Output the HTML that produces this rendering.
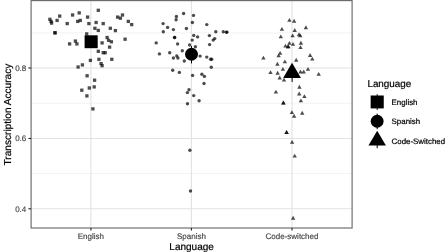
<!DOCTYPE html>
<html><head><meta charset="utf-8"><title>Transcription Accuracy by Language</title>
<style>
html,body{margin:0;padding:0;background:#fff;}
body{width:448px;height:252px;overflow:hidden;}
svg{display:block;text-rendering:geometricPrecision;font-family:"Liberation Sans",Arial,sans-serif;}
.g{stroke:#e2e2e2;stroke-width:1.1;fill:none}
.gm{stroke:#ececec;stroke-width:.7;fill:none}
.tk{stroke:#222;stroke-width:1.1;fill:none}
.al{font-size:8px;fill:#4d4d4d;stroke:#4d4d4d;stroke-width:.2}
.at{font-size:10px;fill:#000;stroke:#000;stroke-width:.2}
.lt{font-size:7.9px;fill:#000;stroke:#000;stroke-width:.2}
.p{fill:#000;fill-opacity:.7}
</style></head><body>
<svg width="448" height="252" viewBox="0 0 448 252">
<rect width="448" height="252" fill="#fff"/>

<line class="gm" x1="31" x2="352" y1="32.9" y2="32.9"/>
<line class="gm" x1="31" x2="352" y1="103.2" y2="103.2"/>
<line class="gm" x1="31" x2="352" y1="173.6" y2="173.6"/>
<line class="g" x1="31" x2="352" y1="68.0" y2="68.0"/>
<line class="g" x1="31" x2="352" y1="138.5" y2="138.5"/>
<line class="g" x1="31" x2="352" y1="208.8" y2="208.8"/>
<line class="g" x1="90.9" x2="90.9" y1="1" y2="228"/>
<line class="g" x1="191.4" x2="191.4" y1="1" y2="228"/>
<line class="g" x1="292.0" x2="292.0" y1="1" y2="228"/>
<g class="p">
<rect x="48.25" y="17.65" width="3.3" height="3.3"/>
<rect x="49.45" y="19.75" width="3.3" height="3.3"/>
<rect x="49.95" y="21.45" width="3.3" height="3.3"/>
<rect x="55.45" y="18.75" width="3.3" height="3.3"/>
<rect x="58.05" y="14.45" width="3.3" height="3.3"/>
<rect x="65.55" y="21.95" width="3.3" height="3.3"/>
<rect x="70.95" y="13.35" width="3.3" height="3.3"/>
<rect x="77.55" y="11.25" width="3.3" height="3.3"/>
<rect x="76.05" y="19.75" width="3.3" height="3.3"/>
<rect x="78.65" y="18.75" width="3.3" height="3.3"/>
<rect x="85.95" y="15.45" width="3.3" height="3.3"/>
<rect x="87.25" y="21.95" width="3.3" height="3.3"/>
<rect x="96.65" y="8.65" width="3.3" height="3.3"/>
<rect x="94.45" y="20.85" width="3.3" height="3.3"/>
<rect x="101.55" y="21.95" width="3.3" height="3.3"/>
<rect x="93.25" y="26.65" width="3.3" height="3.3"/>
<rect x="96.65" y="28.75" width="3.3" height="3.3"/>
<rect x="108.65" y="26.65" width="3.3" height="3.3"/>
<rect x="113.75" y="28.95" width="3.3" height="3.3"/>
<rect x="115.95" y="15.45" width="3.3" height="3.3"/>
<rect x="118.75" y="16.55" width="3.3" height="3.3"/>
<rect x="120.85" y="13.35" width="3.3" height="3.3"/>
<rect x="126.65" y="19.75" width="3.3" height="3.3"/>
<rect x="130.05" y="22.95" width="3.3" height="3.3"/>
<rect x="123.45" y="37.55" width="3.3" height="3.3"/>
<rect x="85.05" y="32.25" width="3.3" height="3.3"/>
<rect x="105.45" y="35.85" width="3.3" height="3.3"/>
<rect x="106.95" y="38.65" width="3.3" height="3.3"/>
<rect x="109.75" y="40.15" width="3.3" height="3.3"/>
<rect x="100.45" y="41.25" width="3.3" height="3.3"/>
<rect x="107.95" y="45.45" width="3.3" height="3.3"/>
<rect x="73.75" y="39.45" width="3.3" height="3.3"/>
<rect x="75.25" y="42.25" width="3.3" height="3.3"/>
<rect x="67.95" y="42.25" width="3.3" height="3.3"/>
<rect x="96.65" y="49.65" width="3.3" height="3.3"/>
<rect x="101.55" y="51.05" width="3.3" height="3.3"/>
<rect x="103.55" y="51.05" width="3.3" height="3.3"/>
<rect x="88.75" y="58.75" width="3.3" height="3.3"/>
<rect x="97.25" y="57.65" width="3.3" height="3.3"/>
<rect x="110.15" y="57.65" width="3.3" height="3.3"/>
<rect x="99.45" y="61.95" width="3.3" height="3.3"/>
<rect x="100.45" y="64.05" width="3.3" height="3.3"/>
<rect x="80.75" y="63.25" width="3.3" height="3.3"/>
<rect x="76.45" y="65.35" width="3.3" height="3.3"/>
<rect x="85.45" y="74.15" width="3.3" height="3.3"/>
<rect x="92.95" y="78.55" width="3.3" height="3.3"/>
<rect x="92.55" y="85.25" width="3.3" height="3.3"/>
<rect x="87.65" y="86.35" width="3.3" height="3.3"/>
<rect x="80.15" y="88.55" width="3.3" height="3.3"/>
<rect x="85.25" y="94.25" width="3.3" height="3.3"/>
<rect x="91.25" y="107.25" width="3.3" height="3.3"/>
<rect x="53.35" y="31.15" width="3.3" height="3.3"/>
<rect x="53.35" y="31.15" width="3.3" height="3.3"/>
<circle cx="183.60" cy="13.50" r="1.7"/>
<circle cx="193.50" cy="15.40" r="1.7"/>
<circle cx="176.40" cy="16.50" r="1.7"/>
<circle cx="176.10" cy="19.70" r="1.7"/>
<circle cx="192.40" cy="22.50" r="1.7"/>
<circle cx="163.10" cy="23.60" r="1.7"/>
<circle cx="167.60" cy="27.40" r="1.7"/>
<circle cx="173.40" cy="29.60" r="1.7"/>
<circle cx="163.30" cy="31.70" r="1.7"/>
<circle cx="186.40" cy="28.50" r="1.7"/>
<circle cx="206.80" cy="24.60" r="1.7"/>
<circle cx="215.80" cy="31.70" r="1.7"/>
<circle cx="223.30" cy="31.70" r="1.7"/>
<circle cx="226.90" cy="32.10" r="1.7"/>
<circle cx="226.50" cy="32.30" r="1.7"/>
<circle cx="209.40" cy="35.60" r="1.7"/>
<circle cx="214.70" cy="38.60" r="1.7"/>
<circle cx="213.20" cy="40.10" r="1.7"/>
<circle cx="193.70" cy="35.40" r="1.7"/>
<circle cx="197.60" cy="36.90" r="1.7"/>
<circle cx="192.20" cy="40.10" r="1.7"/>
<circle cx="174.60" cy="37.50" r="1.7"/>
<circle cx="174.60" cy="37.50" r="1.7"/>
<circle cx="156.20" cy="42.90" r="1.7"/>
<circle cx="177.60" cy="43.90" r="1.7"/>
<circle cx="209.60" cy="44.60" r="1.7"/>
<circle cx="189.60" cy="45.00" r="1.7"/>
<circle cx="195.40" cy="46.70" r="1.7"/>
<circle cx="182.30" cy="50.80" r="1.7"/>
<circle cx="169.70" cy="52.70" r="1.7"/>
<circle cx="159.40" cy="53.90" r="1.7"/>
<circle cx="176.80" cy="55.90" r="1.7"/>
<circle cx="173.40" cy="58.00" r="1.7"/>
<circle cx="177.90" cy="58.00" r="1.7"/>
<circle cx="184.30" cy="61.00" r="1.7"/>
<circle cx="200.10" cy="56.10" r="1.7"/>
<circle cx="206.80" cy="57.10" r="1.7"/>
<circle cx="210.60" cy="59.30" r="1.7"/>
<circle cx="211.70" cy="59.30" r="1.7"/>
<circle cx="211.30" cy="67.20" r="1.7"/>
<circle cx="172.70" cy="70.20" r="1.7"/>
<circle cx="179.40" cy="72.40" r="1.7"/>
<circle cx="192.60" cy="75.40" r="1.7"/>
<circle cx="201.90" cy="74.30" r="1.7"/>
<circle cx="204.40" cy="76.40" r="1.7"/>
<circle cx="204.00" cy="83.50" r="1.7"/>
<circle cx="189.00" cy="89.70" r="1.7"/>
<circle cx="187.40" cy="92.60" r="1.7"/>
<circle cx="193.70" cy="95.60" r="1.7"/>
<circle cx="199.10" cy="100.80" r="1.7"/>
<circle cx="187.50" cy="103.80" r="1.7"/>
<circle cx="189.90" cy="150.30" r="1.7"/>
<circle cx="190.50" cy="191.00" r="1.7"/>
<path d="M289.40 17.95L291.60 21.85L287.20 21.85Z"/>
<path d="M294.10 18.85L296.30 22.75L291.90 22.75Z"/>
<path d="M281.90 26.95L284.10 30.85L279.70 30.85Z"/>
<path d="M305.90 25.25L308.10 29.15L303.70 29.15Z"/>
<path d="M294.70 28.05L296.90 31.95L292.50 31.95Z"/>
<path d="M280.80 34.45L283.00 38.35L278.60 38.35Z"/>
<path d="M292.60 33.45L294.80 37.35L290.40 37.35Z"/>
<path d="M299.00 32.35L301.20 36.25L296.80 36.25Z"/>
<path d="M300.30 33.45L302.50 37.35L298.10 37.35Z"/>
<path d="M289.40 40.95L291.60 44.85L287.20 44.85Z"/>
<path d="M293.00 41.95L295.20 45.85L290.80 45.85Z"/>
<path d="M300.90 40.85L303.10 44.75L298.70 44.75Z"/>
<path d="M285.50 43.65L287.70 47.55L283.30 47.55Z"/>
<path d="M288.30 44.15L290.50 48.05L286.10 48.05Z"/>
<path d="M288.00 44.55L290.20 48.45L285.80 48.45Z"/>
<path d="M300.50 45.15L302.70 49.05L298.30 49.05Z"/>
<path d="M280.10 50.95L282.30 54.85L277.90 54.85Z"/>
<path d="M278.60 53.45L280.80 57.35L276.40 57.35Z"/>
<path d="M263.40 55.65L265.60 59.55L261.20 59.55Z"/>
<path d="M310.10 53.05L312.30 56.95L307.90 56.95Z"/>
<path d="M312.30 56.65L314.50 60.55L310.10 60.55Z"/>
<path d="M296.20 57.75L298.40 61.65L294.00 61.65Z"/>
<path d="M284.90 59.45L287.10 63.35L282.70 63.35Z"/>
<path d="M277.40 61.85L279.60 65.75L275.20 65.75Z"/>
<path d="M282.90 66.95L285.10 70.85L280.70 70.85Z"/>
<path d="M308.00 66.95L310.20 70.85L305.80 70.85Z"/>
<path d="M300.50 69.55L302.70 73.45L298.30 73.45Z"/>
<path d="M303.70 69.55L305.90 73.45L301.50 73.45Z"/>
<path d="M270.50 70.15L272.70 74.05L268.30 74.05Z"/>
<path d="M277.60 70.85L279.80 74.75L275.40 74.75Z"/>
<path d="M318.70 71.95L320.90 75.85L316.50 75.85Z"/>
<path d="M279.70 75.55L281.90 79.45L277.50 79.45Z"/>
<path d="M284.00 77.65L286.20 81.55L281.80 81.55Z"/>
<path d="M299.40 84.75L301.60 88.65L297.20 88.65Z"/>
<path d="M275.90 89.65L278.10 93.55L273.70 93.55Z"/>
<path d="M299.20 91.55L301.40 95.45L297.00 95.45Z"/>
<path d="M304.40 94.15L306.60 98.05L302.20 98.05Z"/>
<path d="M300.90 98.45L303.10 102.35L298.70 102.35Z"/>
<path d="M283.40 100.55L285.60 104.45L281.20 104.45Z"/>
<path d="M283.40 100.55L285.60 104.45L281.20 104.45Z"/>
<path d="M291.90 110.15L294.10 114.05L289.70 114.05Z"/>
<path d="M302.20 110.85L304.40 114.75L300.00 114.75Z"/>
<path d="M294.10 113.85L296.30 117.75L291.90 117.75Z"/>
<path d="M286.60 130.05L288.80 133.95L284.40 133.95Z"/>
<path d="M286.60 130.05L288.80 133.95L284.40 133.95Z"/>
<path d="M292.10 139.95L294.30 143.85L289.90 143.85Z"/>
<path d="M294.70 153.65L296.90 157.55L292.50 157.55Z"/>
<path d="M293.10 215.75L295.30 219.65L290.90 219.65Z"/>
</g>
<g fill="#000" stroke="none">
<rect x="84.6" y="35.3" width="13.1" height="12.9"/>
<rect x="191.0" y="46.1" width="1" height="17.3"/>
<circle cx="191.5" cy="54.25" r="6.45"/>
<rect x="291.6" y="65" width="1" height="16.9"/>
<path d="M292.05 62.7L300.95 77.9L283.15 77.9Z"/>
</g>
<rect x="31.1" y="0.6" width="321" height="227.4" fill="none" stroke="#6a6a6a" stroke-width="1.15"/>
<line class="tk" x1="28.4" x2="31" y1="68.0" y2="68.0"/>
<line class="tk" x1="28.4" x2="31" y1="138.5" y2="138.5"/>
<line class="tk" x1="28.4" x2="31" y1="208.8" y2="208.8"/>
<line class="tk" x1="90.9" x2="90.9" y1="228" y2="230.5"/>
<line class="tk" x1="191.4" x2="191.4" y1="228" y2="230.5"/>
<line class="tk" x1="292.0" x2="292.0" y1="228" y2="230.5"/>
<text class="al" x="26.3" y="70.7" text-anchor="end">0.8</text>
<text class="al" x="26.3" y="141.2" text-anchor="end">0.6</text>
<text class="al" x="26.3" y="211.5" text-anchor="end">0.4</text>
<text class="al" x="90.9" y="238.6" text-anchor="middle">English</text>
<text class="al" x="191.5" y="238.6" text-anchor="middle">Spanish</text>
<text class="al" x="292.0" y="238.6" text-anchor="middle">Code-switched</text>
<text class="at" x="191.6" y="250" text-anchor="middle">Language</text>
<text class="at" style="font-size:10.1px" transform="translate(10.5 114.6) rotate(-90)" text-anchor="middle">Transcription Accuracy</text>
<text class="at" x="367.4" y="86.55" style="font-size:9.9px">Language</text>
<g fill="#000">
<rect x="376.7" y="94.2" width="1" height="15.7"/>
<rect x="370.65" y="95.5" width="13.1" height="12.9"/>
<rect x="376.7" y="113.6" width="1" height="15.6"/>
<circle cx="377.15" cy="121.3" r="6.45"/>
<rect x="376.7" y="133" width="1" height="15.2"/>
<path d="M377.2 130.7L385.95 145.5L368.45 145.5Z"/>
</g>
<text class="lt" x="391.6" y="104.64999999999999">English</text>
<text class="lt" x="391.6" y="124.25">Spanish</text>
<text class="lt" x="391.6" y="143.75">Code-Switched</text>
</svg></body></html>
